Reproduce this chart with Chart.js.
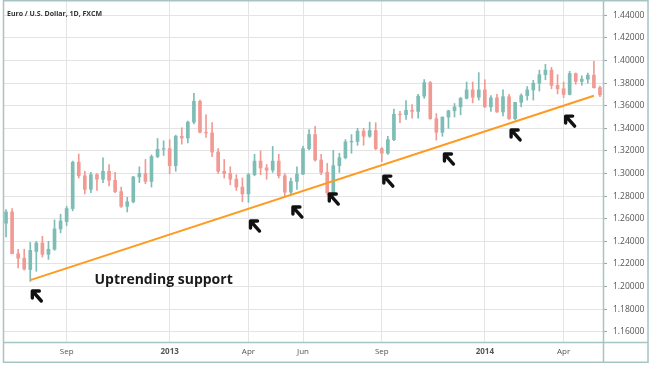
<!DOCTYPE html>
<html>
<head>
<meta charset="utf-8">
<script src="https://cdn.jsdelivr.net/npm/chart.js@4.4.1/dist/chart.umd.min.js"></script>
<style>
  html, body { margin: 0; padding: 0; background: #fff; }
</style>
</head>
<body>
<canvas id="eurusdChart" width="650" height="365"></canvas>
<script>
// EUR/USD weekly candles, Jun 2012 - May 2014
const firstWeek = '2012-06-25';
const weekCount = 99;

const opens = [
  1.2560, 1.2660, 1.2290, 1.2250, 1.2150, 1.2310, 1.2385, 1.2285, 1.2330, 1.2510,
  1.2575, 1.2690, 1.3100, 1.2980, 1.2860, 1.2990, 1.2950, 1.3020, 1.2940, 1.2840,
  1.2710, 1.2750, 1.2970, 1.3000, 1.2930, 1.3150, 1.3215, 1.3220, 1.3070, 1.3330,
  1.3315, 1.3455, 1.3640, 1.3365, 1.3360, 1.3190, 1.3020, 1.3000, 1.2950, 1.2880,
  1.2820, 1.2990, 1.3110, 1.3050, 1.3030, 1.3110, 1.2980, 1.2835, 1.2930, 1.2995,
  1.3220, 1.3345, 1.3120, 1.3010, 1.2830, 1.3070, 1.3140, 1.3280, 1.3285, 1.3375,
  1.3330, 1.3380, 1.3220, 1.3180, 1.3300, 1.3525, 1.3520, 1.3560, 1.3550, 1.3685,
  1.3805, 1.3485, 1.3365, 1.3500, 1.3555, 1.3590, 1.3665, 1.3740, 1.3675, 1.3740,
  1.3590, 1.3670, 1.3545, 1.3680, 1.3485, 1.3630, 1.3690, 1.3740, 1.3800, 1.3875,
  1.3915, 1.3780, 1.3750, 1.3700, 1.3885, 1.3815, 1.3835, 1.3870, 1.3760
];
const highs = [
  1.2680, 1.2690, 1.2330, 1.2330, 1.2390, 1.2400, 1.2445, 1.2400, 1.2590, 1.2640,
  1.2710, 1.3110, 1.3172, 1.3020, 1.3010, 1.3000, 1.3140, 1.3080, 1.3010, 1.2880,
  1.2790, 1.2975, 1.3060, 1.3125, 1.3165, 1.3310, 1.3290, 1.3300, 1.3340, 1.3405,
  1.3465, 1.3710, 1.3650, 1.3520, 1.3450, 1.3220, 1.3125, 1.3060, 1.2990, 1.2960,
  1.3000, 1.3170, 1.3200, 1.3080, 1.3240, 1.3170, 1.3000, 1.2960, 1.3060, 1.3240,
  1.3390, 1.3418, 1.3170, 1.3090, 1.3205, 1.3180, 1.3300, 1.3345, 1.3400, 1.3400,
  1.3455, 1.3450, 1.3230, 1.3330, 1.3570, 1.3550, 1.3645, 1.3610, 1.3700, 1.3832,
  1.3815, 1.3530, 1.3500, 1.3560, 1.3620, 1.3675, 1.3810, 1.3810, 1.3893, 1.3830,
  1.3690, 1.3700, 1.3740, 1.3700, 1.3630, 1.3705, 1.3770, 1.3825, 1.3915, 1.3966,
  1.3940, 1.3875, 1.3810, 1.3905, 1.3890, 1.3865, 1.3890, 1.3993, 1.3775
];
const lows = [
  1.2440, 1.2290, 1.2165, 1.2145, 1.2045, 1.2135, 1.2260, 1.2240, 1.2320, 1.2475,
  1.2540, 1.2670, 1.2960, 1.2820, 1.2830, 1.2850, 1.2920, 1.2890, 1.2830, 1.2700,
  1.2660, 1.2740, 1.2920, 1.2910, 1.2880, 1.3140, 1.3160, 1.3000, 1.3020, 1.3260,
  1.3270, 1.3440, 1.3360, 1.3320, 1.3150, 1.3000, 1.2960, 1.2900, 1.2850, 1.2750,
  1.2745, 1.2980, 1.2990, 1.2950, 1.3010, 1.2960, 1.2795, 1.2820, 1.2860, 1.2990,
  1.3210, 1.3110, 1.2990, 1.2810, 1.2770, 1.3010, 1.3130, 1.3180, 1.3250, 1.3250,
  1.3320, 1.3210, 1.3105, 1.3170, 1.3290, 1.3450, 1.3480, 1.3490, 1.3490, 1.3665,
  1.3480, 1.3296, 1.3330, 1.3400, 1.3500, 1.3520, 1.3660, 1.3625, 1.3650, 1.3585,
  1.3550, 1.3540, 1.3510, 1.3480, 1.3475, 1.3590, 1.3650, 1.3650, 1.3730, 1.3830,
  1.3750, 1.3705, 1.3672, 1.3695, 1.3790, 1.3780, 1.3800, 1.3755, 1.3680
];
const closes = [
  1.2660, 1.2290, 1.2250, 1.2155, 1.2320, 1.2385, 1.2285, 1.2330, 1.2510, 1.2580,
  1.2690, 1.3100, 1.2980, 1.2860, 1.2990, 1.2950, 1.3020, 1.2940, 1.2840, 1.2710,
  1.2750, 1.2970, 1.3000, 1.2930, 1.3150, 1.3215, 1.3220, 1.3070, 1.3330, 1.3315,
  1.3455, 1.3640, 1.3365, 1.3360, 1.3190, 1.3020, 1.3000, 1.2950, 1.2880, 1.2820,
  1.2990, 1.3110, 1.3050, 1.3030, 1.3110, 1.2980, 1.2835, 1.2930, 1.2995, 1.3220,
  1.3345, 1.3120, 1.3010, 1.2830, 1.3070, 1.3140, 1.3280, 1.3285, 1.3375, 1.3330,
  1.3380, 1.3220, 1.3180, 1.3300, 1.3525, 1.3520, 1.3560, 1.3550, 1.3685, 1.3805,
  1.3485, 1.3365, 1.3500, 1.3555, 1.3590, 1.3665, 1.3740, 1.3675, 1.3740, 1.3590,
  1.3670, 1.3545, 1.3680, 1.3485, 1.3630, 1.3690, 1.3740, 1.3800, 1.3875, 1.3915,
  1.3780, 1.3750, 1.3700, 1.3885, 1.3815, 1.3835, 1.3870, 1.3760, 1.3695
];

// axis ticks
const xTickWeeks = ['2012-09-03', '2012-12-31', '2013-04-01', '2013-06-03', '2013-09-02', '2013-12-30', '2014-03-31'];
const xTickLabels = ['Sep', '2013', 'Apr', 'Jun', 'Sep', '2014', 'Apr'];
const yTickValues = [1.16, 1.18, 1.20, 1.22, 1.24, 1.26, 1.28, 1.30, 1.32, 1.34, 1.36, 1.38, 1.40, 1.42, 1.44];

// support line and the arrows that mark touches
const trendWeeks = ['2012-07-23', '2014-05-05'];
const trendPrices = [1.2057, 1.3688];
const arrowWeeks = ['2012-07-30', '2013-04-08', '2013-05-27', '2013-07-08', '2013-09-09', '2013-11-18', '2014-02-03', '2014-04-07'];
const arrowPrices = [1.1925, 1.2544, 1.2668, 1.2783, 1.2942, 1.3137, 1.3350, 1.3473];
const noteText = 'Uptrending support';
const noteWeek = '2012-12-24';
const notePrice = 1.2022;
const titleText = 'Euro / U.S. Dollar, 1D, FXCM';

// build week labels
const weeks = [];
const d0 = new Date(firstWeek + 'T00:00:00Z');
for (let i = 0; i < weekCount; i++) {
  const d = new Date(d0.getTime() + i * 7 * 86400000);
  weeks.push(d.toISOString().slice(0, 10));
}

const upColor = '#7dbdb5';
const downColor = '#f19a94';
const candleColors = opens.map((o, i) => closes[i] >= o ? upColor : downColor);

const trendData = weeks.map(w => {
  const k = trendWeeks.indexOf(w);
  return k >= 0 ? trendPrices[k] : null;
});

const tickIndex = {};
xTickWeeks.forEach((w, i) => { tickIndex[weeks.indexOf(w)] = xTickLabels[i]; });

const fontFamily = '"Open Sans", "DejaVu Sans", sans-serif';
const frameColor = '#a6c4c4';

const overlayPlugin = {
  id: 'overlay',
  afterDatasetsDraw(chart) {
    const ctx = chart.ctx;
    const xs = chart.scales.x, ys = chart.scales.y;
    ctx.save();
    // arrows
    ctx.strokeStyle = '#111';
    ctx.lineWidth = 3.4;
    ctx.lineCap = 'round';
    ctx.lineJoin = 'round';
    arrowWeeks.forEach((w, i) => {
      const cx = xs.getPixelForValue(weeks.indexOf(w));
      const cy = ys.getPixelForValue(arrowPrices[i]);
      ctx.beginPath();
      ctx.moveTo(cx + 5, cy + 6);
      ctx.lineTo(cx - 3, cy - 3);
      ctx.moveTo(cx - 4, cy + 3);
      ctx.lineTo(cx - 4, cy - 4);
      ctx.lineTo(cx + 3, cy - 4);
      ctx.stroke();
    });
    // note text
    ctx.fillStyle = '#1a1a1a';
    ctx.font = 'bold 14px ' + fontFamily;
    ctx.textAlign = 'center';
    ctx.textBaseline = 'alphabetic';
    ctx.fillText(noteText, xs.getPixelForValue(weeks.indexOf(noteWeek)), ys.getPixelForValue(notePrice));
    // title
    const area = chart.chartArea;
    ctx.fillStyle = '#333';
    ctx.font = 'bold 7px ' + fontFamily;
    ctx.textAlign = 'left';
    ctx.textBaseline = 'middle';
    ctx.fillText(titleText, area.left + 4, area.top + 13);
    ctx.restore();
  },
  afterDraw(chart) {
    const ctx = chart.ctx;
    const area = chart.chartArea;
    ctx.save();
    ctx.strokeStyle = frameColor;
    ctx.lineWidth = 1.5;
    ctx.strokeRect(area.left + 0.5, area.top - 0.25, chart.width - area.left - 2.5, chart.height - area.top - 2.5);
    ctx.beginPath();
    ctx.moveTo(area.right + 0.5, area.top);
    ctx.lineTo(area.right + 0.5, chart.height - 3);
    ctx.moveTo(area.left, area.bottom + 0.5);
    ctx.lineTo(chart.width - 2, area.bottom + 0.5);
    ctx.stroke();
    ctx.restore();
  }
};

const ctx = document.getElementById('eurusdChart').getContext('2d');
const eurusdChart = new Chart(ctx, {
  type: 'bar',
  data: {
    labels: weeks,
    datasets: [
      {
        type: 'line',
        label: 'Support',
        data: trendData,
        borderColor: '#ff9a1f',
        borderWidth: 2,
        pointRadius: 0,
        spanGaps: true,
        order: 1
      },
      {
        label: 'Body',
        data: opens.map((o, i) => [o, closes[i]]),
        backgroundColor: candleColors,
        barThickness: 3,
        grouped: false,
        order: 2
      },
      {
        label: 'Wick',
        data: lows.map((l, i) => [l, highs[i]]),
        backgroundColor: candleColors,
        barThickness: 1,
        grouped: false,
        order: 3
      }
    ]
  },
  options: {
    responsive: false,
    animation: false,
    devicePixelRatio: 1,
    layout: { padding: { left: 3, top: 1, right: 0, bottom: 0 } },
    plugins: {
      legend: { display: false },
      tooltip: { enabled: false }
    },
    scales: {
      x: {
        type: 'category',
        offset: true,
        border: { display: false },
        grid: {
          offset: false,
          drawTicks: false,
          color: c => (tickIndex[c.index] !== undefined ? '#e4e4e4' : 'rgba(0,0,0,0)')
        },
        ticks: {
          autoSkip: false,
          maxRotation: 0,
          padding: 5,
          color: '#555',
          font: c => ({
            family: fontFamily,
            size: 8,
            weight: /^\d+$/.test(tickIndex[c.index] || '') ? 'bold' : 'normal'
          }),
          callback: (v, i) => tickIndex[i] || ''
        },
        afterFit: s => {
          s.height = 23;
          s.paddingLeft = 0;
          s.paddingRight = 0;
        }
      },
      y: {
        position: 'right',
        min: 1.1509,
        max: 1.4527,
        border: { display: false },
        afterBuildTicks: s => { s.ticks = yTickValues.map(v => ({ value: v })); },
        grid: {
          color: '#e4e4e4',
          drawTicks: true,
          tickLength: 4,
          tickColor: '#9aa'
        },
        ticks: {
          padding: 6,
          color: '#555',
          font: { family: fontFamily, size: 8.5 },
          callback: v => Number(v).toFixed(5)
        },
        afterFit: s => {
          s.width = 47;
          s.paddingTop = 0;
          s.paddingBottom = 0;
        }
      }
    }
  },
  plugins: [overlayPlugin]
});
</script>
</body>
</html>
